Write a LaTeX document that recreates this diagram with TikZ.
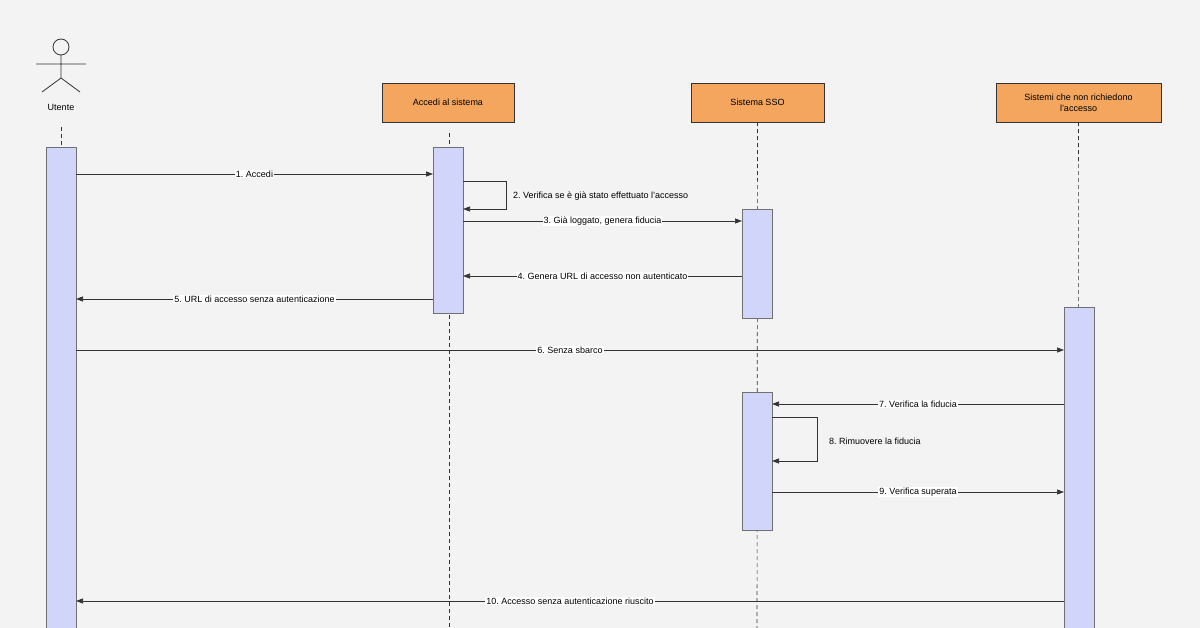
\documentclass[tikz,border=0pt]{standalone}
\usepackage{fontspec}
\setmainfont{Liberation Sans}
\usetikzlibrary{arrows.meta}
\definecolor{bg}{HTML}{F3F3F3}
\definecolor{act}{HTML}{D2D5FA}
\definecolor{hdr}{HTML}{F4A65E}
\definecolor{ln}{HTML}{333333}
\tikzset{
 x=1pt,y=-1pt,
 hdr/.style={draw=ln,fill=hdr,minimum width=#1,minimum height=39pt,align=center,font=\fontsize{9}{11}\selectfont,inner sep=1pt},
 act/.style={draw=ln!70,fill=act},
 life/.style={draw=ln,dash pattern=on 4pt off 3pt,line width=0.6pt},
 msg/.style={draw=ln,line width=0.7pt,-{Triangle[length=7pt,width=5pt]}},
 lbl/.style={fill=white,inner sep=1pt,font=\fontsize{9}{11}\selectfont},
 slbl/.style={inner sep=1pt,anchor=west,font=\fontsize{9}{11}\selectfont},
}
\frenchspacing
\begin{document}
\frenchspacing
\begin{tikzpicture}
\fill[bg] (0,0) rectangle (1200,628);
\useasboundingbox (0,0) rectangle (1200,628);
% actor
\draw[ln,line width=0.8pt] (61,47) circle (8);
\draw[ln,line width=0.8pt] (61,55)--(61,78) (36,64)--(86,64) (42,92)--(61,78)--(80,92);
\node[font=\fontsize{9}{11}\selectfont] (u) at (61,107) {Utente};
\node[hdr=132pt] (a) at (448,102.5) {Accedi al sistema};
\node[hdr=133pt] (s) at (757.5,102.5) {Sistema SSO};
\node[hdr=165pt] (n) at (1078.5,102.5) {Sistemi che non richiedono\\l'accesso};
% lifelines
\coordinate (ue) at (61,628); \coordinate (ae) at (449,628);
\coordinate (se) at (757,628); \coordinate (ne) at (1079,628);
\draw[life] (61,127)--(ue);
\draw[life] (449,133)--(ae);
\draw[life] (s.south)--(se);
\draw[life] (n.south)--(ne);
% activations
\draw[act] (46,147) rectangle (76,640);
\draw[act] (433,147) rectangle (463,313);
\draw[act] (742,209) rectangle (772,318);
\draw[act] (742,392) rectangle (772,530);
\draw[act] (1064,307) rectangle (1094,640);
% messages
\draw[msg] (76,174)--node[lbl]{1. Accedi}(433,174);
\draw[msg] (463,181)--(506,181)--(506,209)--(463,209);
\node[slbl] (l2) at (512,196) {2. Verifica se è già stato effettuato l'accesso};
\draw[msg] (463,221)--node[lbl]{3. Già loggato, genera fiducia}(742,221);
\draw[msg] (742,276)--node[lbl]{4. Genera URL di accesso non autenticato}(463,276);
\draw[msg] (433,299)--node[lbl]{5. URL di accesso senza autenticazione}(76,299);
\draw[msg] (76,350)--node[lbl]{6. Senza sbarco}(1064,350);
\draw[msg] (1064,404)--node[lbl]{7. Verifica la fiducia}(772,404);
\draw[msg] (772,417)--(817,417)--(817,461)--(772,461);
\node[slbl] (l8) at (828,441) {8. Rimuovere la fiducia};
\draw[msg] (772,492)--node[lbl]{9. Verifica superata}(1064,492);
\draw[msg] (1064,601)--node[lbl]{10. Accesso senza autenticazione riuscito}(76,601);
\end{tikzpicture}
\end{document}
